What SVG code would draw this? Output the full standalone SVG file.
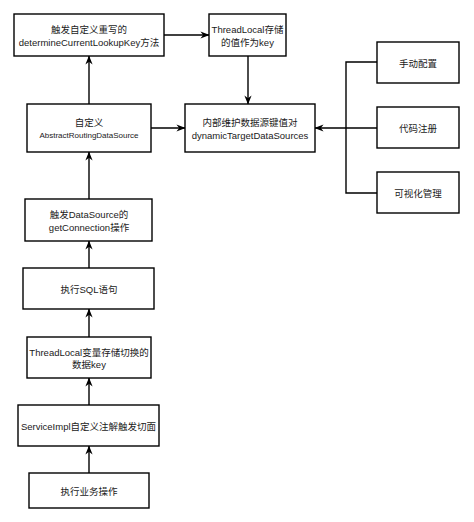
<svg xmlns="http://www.w3.org/2000/svg" width="474" height="522" viewBox="0 0 474 522">
<style>
.box{fill:#fff;stroke:#000;stroke-width:1.4}
.t{font-family:"Liberation Sans","Noto Sans CJK SC",sans-serif;font-size:9.5px;fill:#1a1a1a;text-anchor:middle;dominant-baseline:central}
.s{font-size:8px}
.c{fill:none;stroke:#000;stroke-width:1.4}
</style>
<defs>
<marker id="arr" viewBox="0 0 10 10" refX="9.5" refY="5" markerWidth="9" markerHeight="9" markerUnits="userSpaceOnUse" orient="auto">
<path d="M0,1 L10,5 L0,9 L3,5 z" fill="#000"/>
</marker>
</defs>
<rect width="474" height="522" fill="#fff"/>
<g id="connectors">
<path class="c" d="M89,104 L89,56" marker-end="url(#arr)"/>
<path class="c" d="M164,35 L209,35" marker-end="url(#arr)"/>
<path class="c" d="M248,56 L248,104" marker-end="url(#arr)"/>
<path class="c" d="M151,128 L185,128" marker-end="url(#arr)"/>
<path class="c" d="M89,199 L89,152" marker-end="url(#arr)"/>
<path class="c" d="M89,268 L89,241" marker-end="url(#arr)"/>
<path class="c" d="M89,337 L89,309" marker-end="url(#arr)"/>
<path class="c" d="M89,405 L89,378" marker-end="url(#arr)"/>
<path class="c" d="M89,473 L89,446" marker-end="url(#arr)"/>
<path class="c" d="M377,62 L346,62 L346,193 L377,193"/>
<path class="c" d="M377,128 L346,128 L315,128" marker-end="url(#arr)"/>
</g>
<g id="n1"><rect class="box" x="14" y="14" width="150" height="42"/>
<text class="t" x="89" y="29.5">触发自定义重写的</text>
<text class="t" x="89" y="42">determineCurrentLookupKey方法</text></g>
<g id="n2"><rect class="box" x="209" y="14" width="77" height="42"/>
<text class="t" x="247.5" y="29.5">ThreadLocal存储</text>
<text class="t" x="247.5" y="42">的值作为key</text></g>
<g id="n3"><rect class="box" x="27" y="104" width="124" height="48"/>
<text class="t" x="89" y="122.5">自定义</text>
<text class="t s" x="89" y="135">AbstractRoutingDataSource</text></g>
<g id="n4"><rect class="box" x="185" y="104" width="130" height="48"/>
<text class="t" x="250" y="122.5">内部维护数据源键值对</text>
<text class="t" x="250" y="135">dynamicTargetDataSources</text></g>
<g id="n5"><rect class="box" x="377" y="42" width="82" height="41"/>
<text class="t" x="418" y="63">手动配置</text></g>
<g id="n6"><rect class="box" x="377" y="107" width="82" height="41"/>
<text class="t" x="418" y="128">代码注册</text></g>
<g id="n7"><rect class="box" x="377" y="172" width="82" height="41"/>
<text class="t" x="418" y="193">可视化管理</text></g>
<g id="n8"><rect class="box" x="25" y="199" width="127" height="42"/>
<text class="t" x="89" y="214.5">触发DataSource的</text>
<text class="t" x="89" y="227">getConnection操作</text></g>
<g id="n9"><rect class="box" x="23" y="268" width="131" height="41"/>
<text class="t" x="89" y="289">执行SQL语句</text></g>
<g id="n10"><rect class="box" x="27" y="337" width="124" height="41"/>
<text class="t" x="89" y="352.5">ThreadLocal变量存储切换的</text>
<text class="t" x="89" y="364.5">数据key</text></g>
<g id="n11"><rect class="box" x="18" y="405" width="141" height="41"/>
<text class="t" x="88.5" y="426.5">ServiceImpl自定义注解触发切面</text></g>
<g id="n12"><rect class="box" x="29" y="473" width="120" height="35"/>
<text class="t" x="89" y="491">执行业务操作</text></g>
</svg>
